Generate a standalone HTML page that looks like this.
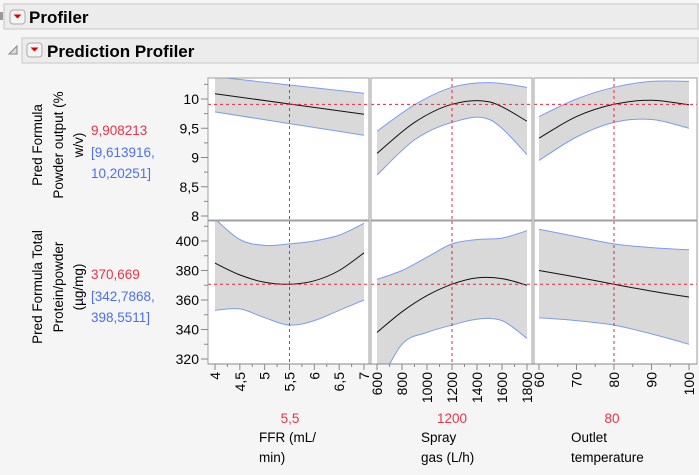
<!DOCTYPE html><html><head><style>
body{margin:0;width:699px;height:470px;background:#f5f5f5;font-family:"Liberation Sans",sans-serif;overflow:hidden}
</style></head><body>
<svg id="s" width="699" height="470" xmlns="http://www.w3.org/2000/svg" font-family="Liberation Sans, sans-serif">
<rect x="4" y="4" width="694" height="25" fill="#ececec" stroke="#c8c8c8"/>
<rect x="22" y="38" width="676" height="25" fill="#ececec" stroke="#c8c8c8"/>
<rect x="0" y="12" width="3" height="8" fill="#999"/>
<rect x="10" y="10" width="15" height="14" rx="3" fill="#f4f4f4" stroke="#aaa"/>
<path d="M13.5,14.5h8l-4,4z" fill="#d00"/>
<text x="29" y="23" font-size="17" font-weight="bold">Profiler</text>
<path d="M9,54l8,-8v8z" fill="#ddd" stroke="#888"/>
<rect x="27" y="43" width="15" height="14" rx="3" fill="#f4f4f4" stroke="#aaa"/>
<path d="M30.5,47.5h8l-4,4z" fill="#d00"/>
<text x="47" y="57" font-size="17" font-weight="bold">Prediction Profiler</text>
<g id="g"></g>
<g font-size="13.5" text-anchor="middle">
<text transform="translate(42,145) rotate(-90)">Pred Formula</text>
<text transform="translate(63,145) rotate(-90)">Powder output (%</text>
<text transform="translate(83,145) rotate(-90)">w/v)</text>
<text transform="translate(42,287) rotate(-90)">Pred Formula Total</text>
<text transform="translate(63,287) rotate(-90)">Protein/powder</text>
<text transform="translate(83,287) rotate(-90)">(µg/mg)</text>
</g>
<g font-size="13.5">
<text x="91" y="135" fill="#e8334a">9,908213</text>
<text x="91" y="157" fill="#4c6fef">[9,613916,</text>
<text x="91" y="178" fill="#4c6fef">10,20251]</text>
<text x="91" y="279" fill="#e8334a">370,669</text>
<text x="91" y="301" fill="#4c6fef">[342,7868,</text>
<text x="91" y="322" fill="#4c6fef">398,5511]</text>
<text x="290" y="423" fill="#e8334a" text-anchor="middle">5,5</text>
<text x="452" y="423" fill="#e8334a" text-anchor="middle">1200</text>
<text x="612" y="423" fill="#e8334a" text-anchor="middle">80</text>
<text x="259" y="442">FFR (mL/</text><text x="259" y="462">min)</text>
<text x="421" y="442">Spray</text><text x="421" y="462">gas (L/h)</text>
<text x="571" y="442">Outlet</text><text x="571" y="462">temperature</text>
</g>
</svg>
<script>
var g=document.getElementById('g'),h='';
var rows=[{t:78,b:220,v0:10,y0:99,s:58.5},{t:221,b:364,v0:400,y0:241,s:1.475}];
var cols=[{l:208,r:369,a:4,xa:215,bv:7,xb:364,cur:5.5},{l:371,r:532,a:600,xa:377,bv:1800,xb:527,cur:1200},{l:534,r:697,a:60,xa:539,bv:100,xb:689,cur:80}];
function X(c,v){return c.xa+(v-c.a)*(c.xb-c.xa)/(c.bv-c.a)}
function Y(r,v){return r.y0-(v-r.v0)*r.s}
function f(n){return n.toFixed(1)}
function cr(p,move){var d=(move?'M':'L')+f(p[0][0])+','+f(p[0][1]);for(var i=0;i<p.length-1;i++){var p0=p[i-1]||p[i],p1=p[i],p2=p[i+1],p3=p[i+2]||p2;d+='C'+f(p1[0]+(p2[0]-p0[0])/6)+','+f(p1[1]+(p2[1]-p0[1])/6)+' '+f(p2[0]-(p3[0]-p1[0])/6)+','+f(p2[1]-(p3[1]-p1[1])/6)+' '+f(p2[0])+','+f(p2[1]);}return d}
var D=[[
 {x:[4,7],m:[10.09,9.74],u:[10.38,10.1],l:[9.78,9.38]},
 {x:[600,900,1200,1500,1800],m:[9.07,9.6,9.91,9.95,9.62],u:[9.45,9.9,10.2,10.28,10.2],l:[8.7,9.3,9.6,9.65,9.05]},
 {x:[60,70,80,90,100],m:[9.33,9.7,9.91,9.98,9.9],u:[9.7,10.0,10.2,10.3,10.3],l:[8.95,9.35,9.6,9.65,9.5]}],[
 {x:[4,4.5,5,5.5,6,6.5,7],m:[385,377,372,370.7,373,380,392],u:[415,401,397,398,400,404,412],l:[353,354,348,343,346,353,360]},
 {x:[600,800,1000,1200,1400,1600,1800],m:[338,352,363,370.7,375,374.5,370],u:[374,380,389,398,401,402,407],l:[300,330,338,343,347,346,334]},
 {x:[60,70,80,90,100],m:[380,375.5,370.7,366,362],u:[408,403,398,395.5,394],l:[348,346,343,337,330]}]];
h+='<defs>';rows.forEach(function(r,i){cols.forEach(function(c,j){h+='<clipPath id="c'+i+j+'"><rect x="'+c.l+'" y="'+r.t+'" width="'+(c.r-c.l)+'" height="'+(r.b-r.t)+'"/></clipPath>'})});h+='</defs>';
var curY=[9.908213,370.669];
rows.forEach(function(r,i){cols.forEach(function(c,j){
 h+='<rect x="'+c.l+'" y="'+r.t+'" width="'+(c.r-c.l)+'" height="'+(r.b-r.t)+'" fill="#fff"/>';
 var d=D[i][j],P=function(a){return d.x.map(function(v,k){return[X(c,v),Y(r,a[k])]})};
 var up=P(d.u),lo=P(d.l),mm=P(d.m);
 var lor=lo.slice().reverse();
 h+='<g clip-path="url(#c'+i+j+')"><path d="'+cr(up,1)+cr(lor,0)+'Z" fill="#d9d9d9"/>';
 h+='<path d="'+cr(up,1)+'" fill="none" stroke="#7c9cf0"/><path d="'+cr(lo,1)+'" fill="none" stroke="#7c9cf0"/>';
 h+='<path d="'+cr(mm,1)+'" fill="none" stroke="#111"/>';
 h+='<line x1="'+c.l+'" x2="'+c.r+'" y1="'+Y(r,curY[i])+'" y2="'+Y(r,curY[i])+'" stroke="#e8283c" stroke-dasharray="3,3"/>';
 h+='<line y1="'+r.t+'" y2="'+r.b+'" x1="'+X(c,c.cur)+'" x2="'+X(c,c.cur)+'" stroke="#e8283c" stroke-dasharray="3,3"/></g>';
 h+='<rect x="'+c.l+'" y="'+r.t+'" width="'+(c.r-c.l)+'" height="'+(r.b-r.t)+'" fill="none" stroke="#a0a0a0"/>';
})});
[[0,[8,8.5,9,9.5,10],0.25,8,10.25],[1,[320,340,360,380,400],10,320,410]].forEach(function(a){var r=rows[a[0]];
 for(var v=a[3];v<=a[4]+1e-9;v+=a[2]){var y=Y(r,v),maj=a[1].some(function(q){return Math.abs(q-v)<1e-6});h+='<line x1="'+(maj?201:204)+'" x2="208" y1="'+y+'" y2="'+y+'" stroke="#888"/>';}
 a[1].forEach(function(v){h+='<text x="199" y="'+(Y(r,v)+5)+'" font-size="14" text-anchor="end">'+String(v).replace('.',',')+'</text>'});});
var xt=[[4,4.5,5,5.5,6,6.5,7],[600,800,1000,1200,1400,1600,1800],[60,70,80,90,100]];
cols.forEach(function(c,j){xt[j].forEach(function(v,k){var x=X(c,v);h+='<line x1="'+x+'" x2="'+x+'" y1="364" y2="370" stroke="#888"/>';
 if(k<xt[j].length-1){var xm=(x+X(c,xt[j][k+1]))/2;h+='<line x1="'+xm+'" x2="'+xm+'" y1="364" y2="367" stroke="#888"/>';}
 h+='<text transform="translate('+(x+5)+',372) rotate(-90)" font-size="14" text-anchor="end">'+String(v).replace('.',',')+'</text>';})});
h+='<line x1="208" x2="697" y1="364" y2="364" stroke="#888"/>';
g.innerHTML=h;
</script>
</body></html>
